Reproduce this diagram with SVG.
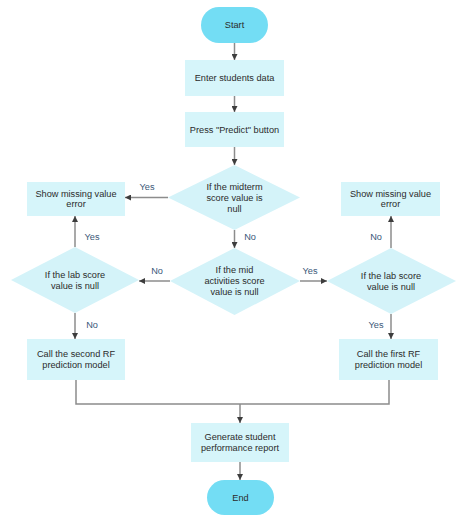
<svg xmlns="http://www.w3.org/2000/svg" width="474" height="523" viewBox="0 0 474 523">
<defs>
<marker id="ah" viewBox="0 0 10 10" refX="10" refY="5" markerWidth="6" markerHeight="6" markerUnits="userSpaceOnUse" orient="auto">
<path d="M0,0 L10,5 L0,10 z" fill="#3d3d3d"/>
</marker>
<style>
.term{fill:#73ddf4}
.box{fill:#d6f5fa}
.dia{fill:#d4f3f9}
.t{font-family:"Liberation Sans",Arial,sans-serif;font-size:9.2px;fill:#2b2b2b;text-anchor:middle;dominant-baseline:central}
.lbl{font-family:"Liberation Sans",Arial,sans-serif;font-size:9.2px;fill:#3a5878;text-anchor:middle;dominant-baseline:central}
.c{stroke:#8c8c8c;stroke-width:1.5;fill:none}
.a{marker-end:url(#ah)}
</style>
</defs>
<rect width="474" height="523" fill="#ffffff"/>
<g id="connectors">
<path class="c a" d="M234.5,43 V60"/>
<path class="c a" d="M234.5,96 V112"/>
<path class="c a" d="M234.5,147 V165"/>
<path class="c a" d="M168,197.5 H125"/>
<path class="c a" d="M234.5,230 V248"/>
<path class="c a" d="M170,281 H139"/>
<path class="c a" d="M300,281 H327"/>
<path class="c a" d="M75,247 V216"/>
<path class="c a" d="M391,248 V216"/>
<path class="c a" d="M75,313 V339"/>
<path class="c a" d="M391,314 V339"/>
<path class="c" d="M76,380 V404 H389 V380"/>
<path class="c a" d="M240,404 V423"/>
<path class="c a" d="M240,462 V480"/>
<text class="lbl" x="147" y="187">Yes</text>
<text class="lbl" x="250" y="237">No</text>
<text class="lbl" x="157" y="271">No</text>
<text class="lbl" x="310" y="271">Yes</text>
<text class="lbl" x="92" y="237">Yes</text>
<text class="lbl" x="376" y="237">No</text>
<text class="lbl" x="92" y="325">No</text>
<text class="lbl" x="376" y="325">Yes</text>
</g>
<g id="start">
<rect class="term" x="201" y="7" width="67" height="36" rx="18"/>
<text class="t" x="234.5" y="25">Start</text>
</g>
<g id="enter">
<rect class="box" x="185" y="60" width="99" height="36"/>
<text class="t" x="234.5" y="78">Enter students data</text>
</g>
<g id="press">
<rect class="box" x="185" y="112" width="99" height="35"/>
<text class="t" x="234.5" y="129.5">Press "Predict" button</text>
</g>
<g id="midterm">
<polygon class="dia" points="234.5,165 300,197.5 234.5,230 168,197.5"/>
<text class="t" x="234.5" y="187">If the midterm</text>
<text class="t" x="234.5" y="198">score value is</text>
<text class="t" x="234.5" y="209">null</text>
</g>
<g id="midact">
<polygon class="dia" points="234.5,248 300,281 234.5,315 170,281"/>
<text class="t" x="234.5" y="270">If the mid</text>
<text class="t" x="234.5" y="281">activities score</text>
<text class="t" x="234.5" y="292">value is null</text>
</g>
<g id="err-left">
<rect class="box" x="27" y="182" width="98" height="34"/>
<text class="t" x="76" y="194">Show missing value</text>
<text class="t" x="76" y="204">error</text>
</g>
<g id="err-right">
<rect class="box" x="341" y="182" width="99" height="34"/>
<text class="t" x="390.5" y="194">Show missing value</text>
<text class="t" x="390.5" y="204">error</text>
</g>
<g id="lab-left">
<polygon class="dia" points="75,247 139,280 75,313 11,280"/>
<text class="t" x="75" y="275">If the lab score</text>
<text class="t" x="75" y="286">value is null</text>
</g>
<g id="lab-right">
<polygon class="dia" points="391,248 456,281 391,314 327,281"/>
<text class="t" x="391" y="276">If the lab score</text>
<text class="t" x="391" y="287">value is null</text>
</g>
<g id="second-rf">
<rect class="box" x="27" y="339" width="98" height="41"/>
<text class="t" x="76" y="354">Call the second RF</text>
<text class="t" x="76" y="365">prediction model</text>
</g>
<g id="first-rf">
<rect class="box" x="339" y="339" width="99" height="41"/>
<text class="t" x="388.5" y="354">Call the first RF</text>
<text class="t" x="388.5" y="365">prediction model</text>
</g>
<g id="generate">
<rect class="box" x="191" y="423" width="98" height="39"/>
<text class="t" x="240" y="437">Generate student</text>
<text class="t" x="240" y="448">performance report</text>
</g>
<g id="end">
<rect class="term" x="207" y="480" width="67" height="35" rx="17.5"/>
<text class="t" x="240.5" y="497.5">End</text>
</g>
</svg>
